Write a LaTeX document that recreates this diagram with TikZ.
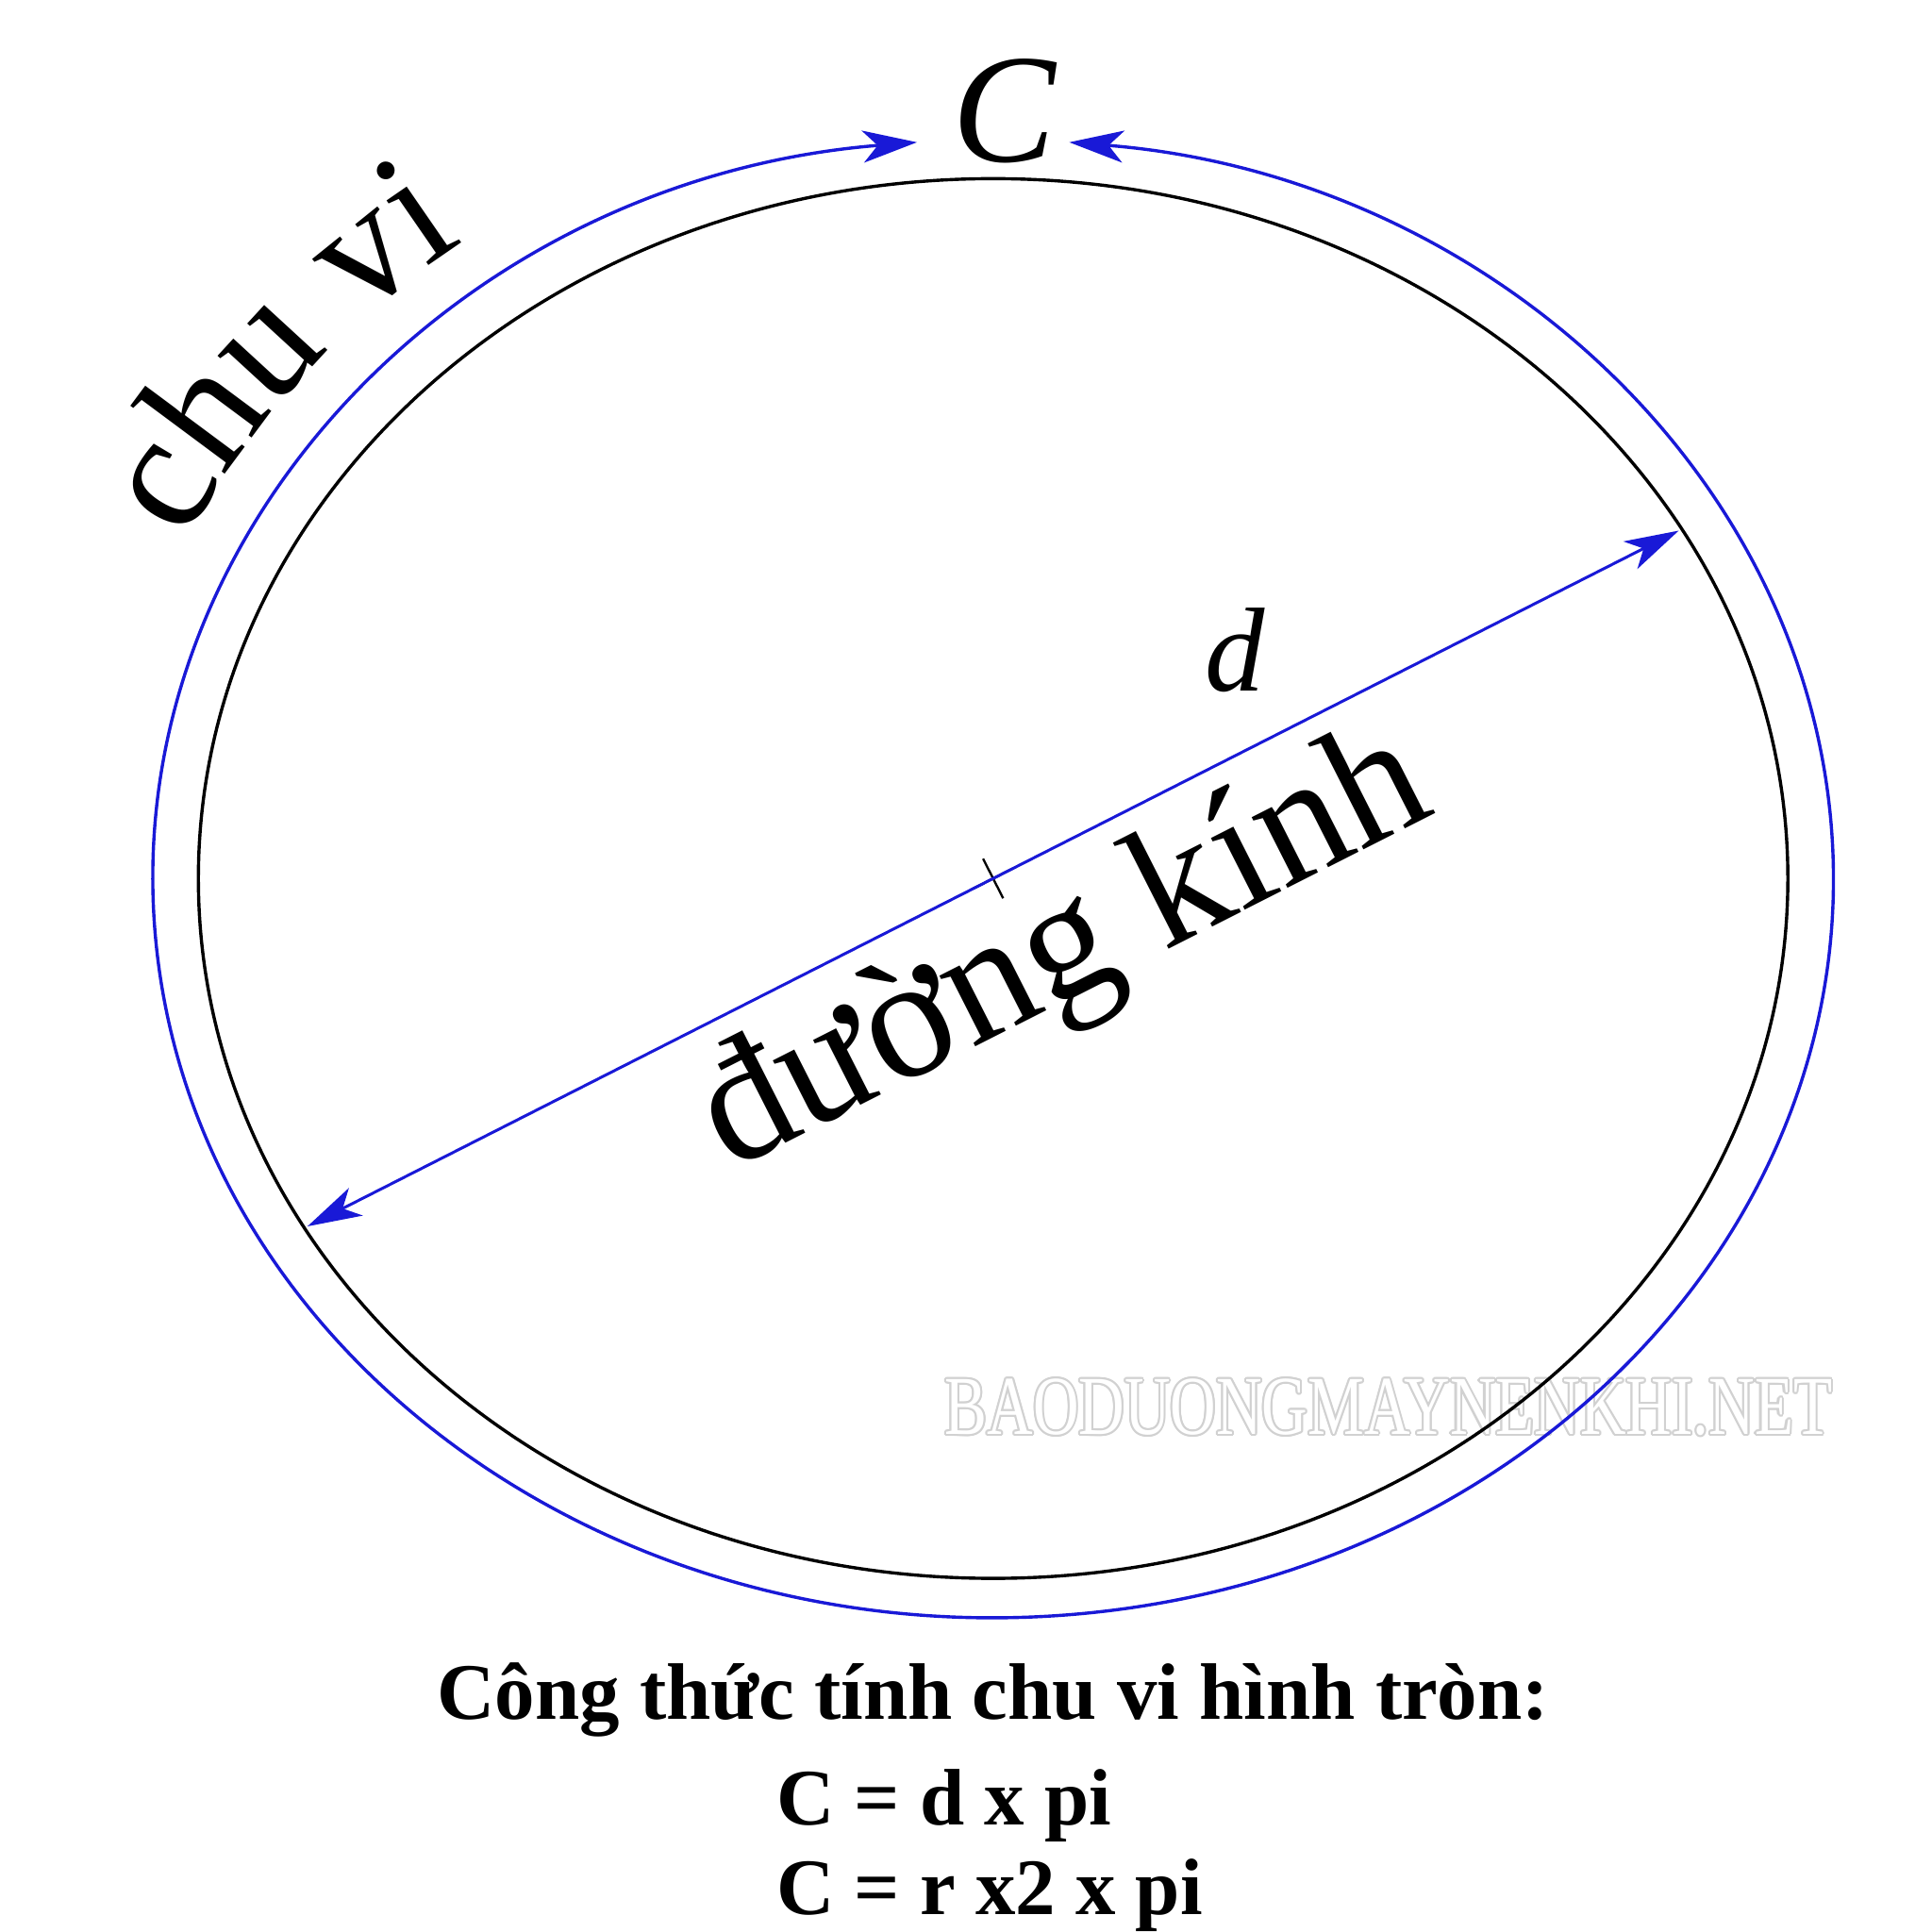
\documentclass[tikz,border=0pt]{standalone}
\usepackage{fontspec}
\setmainfont{Liberation Serif}
\usetikzlibrary{arrows.meta,decorations.text,calc}
\definecolor{arcblue}{RGB}{25,25,215}
\begin{document}
\begin{tikzpicture}[x=1pt,y=1pt,
  blueline/.style={draw=arcblue, line width=2.6pt},
  blackring/.style={draw=black, line width=2.6pt},
  formula/.style={font=\bfseries\fontsize{65}{65}\selectfont, inner sep=0pt},
  wmark/.style={font=\fontsize{68}{68}\selectfont, inner sep=0pt, xscale=0.757}
]
\useasboundingbox (0,0) rectangle (1568,1568);
\fill[white] (0,0) rectangle (1568,1568);

\coordinate (O) at (806,855);

% watermark
\coordinate (W) at (1127,426);
\foreach \a in {0,30,...,330}
  \node[wmark, text=black!18] at ($(W)+(\a:1.6)$) {BAODUONGMAYNENKHI.NET};
\node[wmark, text=white] (wm) at (W) {BAODUONGMAYNENKHI.NET};

% circle (black)
\draw[blackring] (O) ellipse [x radius=645, y radius=568];

% perimeter arc (blue) with arrows towards C
\draw[blueline, {Stealth[length=44pt,width=26pt,inset=12pt]}-{Stealth[length=44pt,width=26pt,inset=12pt]}]
  ($(O)+(95.2:682 and 600)$) arc[start angle=95.2, end angle=444.8, x radius=682, y radius=600];

% centre mark
\draw[black, line width=1.8pt] ($(O)+(116.9:18)$) -- ($(O)+(296.9:18)$)
                               ($(O)+(26.9:18)$) -- ($(O)+(206.9:18)$);

% diameter
\coordinate (dA) at ($(O)+(26.9:624)$);
\coordinate (dB) at ($(O)+(206.9:624)$);
\draw[blueline, line width=2.3pt, {Stealth[length=44pt,width=25pt,inset=12pt]}-{Stealth[length=44pt,width=25pt,inset=12pt]}] (dB) -- (dA);

% labels
\node[font=\itshape\fontsize{126}{126}\selectfont] (C) at (815,1478) {C};
\node[font=\itshape\fontsize{97}{97}\selectfont] (d) at (1002,1040) {d};
\node[font=\fontsize{140}{140}\selectfont, rotate=26.9, anchor=base, inner sep=0pt] (dk) at (880,763) {đường kính};

\path[decorate, decoration={text along path, text={|\fontsize{136}{136}\selectfont|chu vi}, text align=center}]
  ($(O)+(167:724 and 642)$) arc[start angle=167, end angle=115, x radius=724, y radius=642];

% formulas
\node[formula, anchor=base] (title) at (806,173) {Công thức tính chu vi hình tròn:};
\node[formula, anchor=base west] (f1) at (630,87) {C = d x pi};
\node[formula, anchor=base west] (f2) at (630,14) {C = r x2 x pi};
\end{tikzpicture}
\end{document}
